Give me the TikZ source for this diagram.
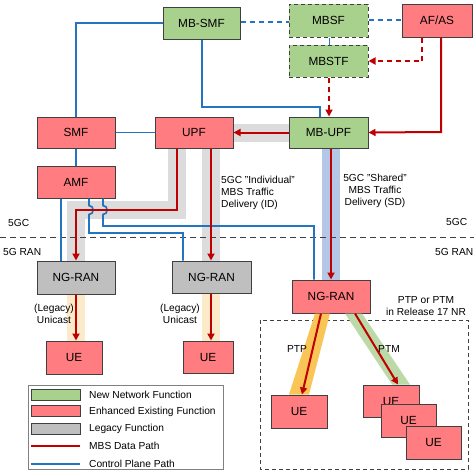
\documentclass[tikz,border=0pt]{standalone}
\usepackage{fontspec}
\setmainfont{Liberation Sans}
\usetikzlibrary{arrows.meta}
\definecolor{nfgreen}{HTML}{A9D18E}
\definecolor{nfred}{HTML}{FF7C80}
\definecolor{nfgray}{HTML}{BFBFBF}
\definecolor{edgec}{HTML}{404040}
\definecolor{dred}{HTML}{C00000}
\definecolor{cblue}{HTML}{2474C0}
\definecolor{bandgray}{HTML}{DCDCDC}
\definecolor{bandblue}{HTML}{B4C7E7}
\definecolor{bandbeige}{HTML}{FBEBCB}
\definecolor{bandorange}{HTML}{F9C557}
\definecolor{bandgreen}{HTML}{BCD9A8}
\begin{document}
\begin{tikzpicture}[x=1pt,y=-1pt,
  box/.style={draw=edgec,line width=1pt,inner sep=0pt,font=\fontsize{11.8}{14}\selectfont},
  gbox/.style={box,fill=nfgreen},
  rbox/.style={box,fill=nfred},
  ybox/.style={box,fill=nfgray},
  dbox/.style={gbox,dashed,dash pattern=on 4pt off 3pt},
  small/.style={font=\fontsize{10.2}{12}\selectfont,inner sep=0pt,align=center},
  cp/.style={draw=cblue,line width=1.7pt},
  cpd/.style={cp,dash pattern=on 5pt off 4pt},
  dp/.style={draw=dred,line width=2pt,-{Triangle[length=7pt,width=7pt]}},
  dpd/.style={dp,dash pattern=on 5pt off 4pt},
  band/.style={line width=18pt},
]
\useasboundingbox (0,0) rectangle (474,474);
% nodes
\node[gbox,minimum width=77pt,minimum height=32pt] (mbsmf) at (201.5,23) {MB-SMF};
\node[dbox,minimum width=79pt,minimum height=33pt] (mbsf) at (328.5,20.5) {MBSF};
\node[rbox,minimum width=70pt,minimum height=33pt] (afas) at (437,20.5) {AF/AS};
\node[dbox,minimum width=79pt,minimum height=32pt] (mbstf) at (328.5,61) {MBSTF};
\node[rbox,minimum width=78pt,minimum height=31pt] (smf) at (76,132.5) {SMF};
\node[rbox,minimum width=78pt,minimum height=31pt] (upf) at (194,132.5) {UPF};
\node[gbox,minimum width=79pt,minimum height=31pt] (mbupf) at (328.5,132.5) {MB-UPF};
\node[rbox,minimum width=78pt,minimum height=32pt] (amf) at (76,182) {AMF};
\node[ybox,minimum width=78pt,minimum height=33pt] (ran1) at (76,277.5) {NG-RAN};
\node[ybox,minimum width=79pt,minimum height=32pt] (ran2) at (211.5,277) {NG-RAN};
\node[rbox,minimum width=78pt,minimum height=33pt] (ran3) at (331,296.5) {NG-RAN};
\node[rbox,minimum width=56pt,minimum height=33pt] (ue1) at (74,357.5) {UE};
\node[rbox,minimum width=50pt,minimum height=32pt] (ue2) at (208,357) {UE};
% x reference coordinates
\coordinate (x61) at (61,0);
\coordinate (x76) at (76,0);
\coordinate (x89) at (89,0);
\coordinate (x103) at (103,0);
\coordinate (x177) at (177,0);
\coordinate (x183) at (183,0);
\coordinate (x202) at (202,0);
\coordinate (x211) at (211,0);
\coordinate (x314) at (314,0);
\coordinate (x320) at (320,0);
\coordinate (x329) at (329,0);
\coordinate (x331) at (331,0);
\coordinate (x422) at (422,0);
\coordinate (x441) at (441,0);
\coordinate (y22) at (0,22);
\coordinate (y20) at (0,20);
% bands
\draw[band,bandgray] (upf.south -| x177) -- (177,210) -- (76,210) -- (ran1.north -| x76);
\draw[band,bandgray] (upf.south -| x211) -- (ran2.north -| x211);
\draw[band,bandgray] (mbupf.west) -- (upf.east);
\draw[band,bandblue] (mbupf.south -| x331) -- (ran3.north -| x331);
\draw[band,bandbeige] (ran1.south -| x76) -- (ue1.north -| x76);
\draw[band,bandbeige] (ran2.south -| x211) -- (ue2.north -| x211);
% dashed separator
\draw[edgec,line width=1pt,dash pattern=on 6pt off 4pt] (0,237) -- (474,237);
\node[small,anchor=west] (l5gc) at (8,223) {5GC};
\node[small,anchor=west] (l5gran) at (3,252) {5G RAN};
\node[small,anchor=west] (r5gc) at (446,222) {5GC};
\node[small,anchor=west] (r5gran) at (435,252) {5G RAN};
% control plane
\draw[cp] (mbsmf.west) -- (mbsmf.west -| x76) -- (smf.north);
\draw[cp] (mbsmf.south -| x202) -- (202,107) -- (320,107) -- (mbupf.north -| x320);
\draw[cp] (smf.east) -- (upf.west);
\draw[cp] (smf.south) -- (amf.north);
\draw[cp] (amf.south -| x61) -- (ran1.north -| x61);
\draw[cp] (amf.south -| x89) -- (89,205.5) .. controls (94.5,205.5) and (94.5,214.5) .. (89,214.5) -- (89,233) -- (183,233) -- (ran2.north -| x183);
\draw[cp] (amf.south -| x103) -- (103,205.5) .. controls (108.5,205.5) and (108.5,214.5) .. (103,214.5) -- (103,226) -- (314,226) -- (ran3.north -| x314);
\draw[cpd] (mbsmf.east |- y22) -- (mbsf.west |- y22);
\draw[cpd] (mbsf.east |- y20) -- (afas.west |- y20);
\draw[draw=cblue,line width=1pt] (mbsf.south -| x329) -- (mbstf.north -| x329);
% data path
\draw[dp] (afas.south -| x441) -- (441,132) -- (mbupf.east);
\draw[dpd] (afas.south -| x422) -- (422,61) -- (mbstf.east);
\draw[dpd] (mbstf.south -| x329) -- (mbupf.north -| x329);
\draw[dp] (mbupf.west) -- (upf.east);
\draw[dp] (upf.south -| x177) -- (177,210) -- (76,210) -- (ran1.north -| x76);
\draw[dp] (upf.south -| x211) -- (ran2.north -| x211);
\draw[dp] (mbupf.south -| x331) -- (ran3.north -| x331);
\draw[dp] (ran1.south -| x76) -- (ue1.north -| x76);
\draw[dp] (ran2.south -| x211) -- (ue2.north -| x211);
% texts
\node[small,align=left,anchor=north west] (idtxt) at (221,176) {5GC "Individual"\\MBS Traffic\\Delivery (ID)};
\node[small,anchor=north] (sdtxt) at (375,174) {5GC "Shared"\\MBS Traffic\\Delivery (SD)};
\node[small] (leg1) at (54,313.5) {(Legacy)\\Unicast};
\node[small] (leg2) at (180,313.5) {(Legacy)\\Unicast};
% PTP/PTM area
\draw[edgec,line width=0.9pt,dash pattern=on 4pt off 3pt] (260,320) rectangle (468,469);
\node[small] (ptpptm) at (426,306.5) {PTP or PTM\\in Release 17 NR};
\node[rbox,minimum width=56pt,minimum height=33pt] (uep) at (299,411.5) {UE};
\node[rbox,minimum width=56pt,minimum height=32pt] (uea) at (391,401) {UE};
\node[rbox,minimum width=55pt,minimum height=33pt] (ueb) at (408.5,420.5) {UE};
\node[rbox,minimum width=55pt,minimum height=33pt] (uec) at (433.5,442.5) {UE};
\fill[bandorange] (315,313.5) -- (330,313.5) -- (309,394.5) -- (289,394.5) -- cycle;
\fill[bandgreen] (345,313.5) -- (362,313.5) -- (410,384.5) -- (392,384.5) -- cycle;
\coordinate (x321) at (321,0);
\coordinate (x302) at (302,0);
\coordinate (x355) at (355,0);
\coordinate (x398) at (398,0);
\draw[dp] (ran3.south -| x321) -- (uep.north -| x302);
\draw[dp] (ran3.south -| x355) -- (uea.north -| x398);
\node[small] (ptp) at (297,349) {PTP};
\node[small] (ptm) at (389,349) {PTM};
% legend
\draw[draw=gray,line width=0.8pt,fill=white] (28,385) rectangle (223,469);
\node[box,fill=nfgreen,minimum width=49pt,minimum height=11pt] (sw1) at (55.5,394.5) {};
\node[box,fill=nfred,minimum width=49pt,minimum height=11pt] (sw2) at (55.5,411) {};
\node[box,fill=nfgray,minimum width=49pt,minimum height=11pt] (sw3) at (55.5,428.5) {};
\coordinate (lr1) at (31,446);
\coordinate (lr2) at (80,446);
\coordinate (lb1) at (31,464);
\coordinate (lb2) at (80,464);
\draw[draw=dred,line width=2pt] (lr1) -- (lr2);
\draw[draw=cblue,line width=1.7pt] (lb1) -- (lb2);
\node[small,anchor=west] (t1) at (89,395) {New Network Function};
\node[small,anchor=west] (t2) at (89,411.5) {Enhanced Existing Function};
\node[small,anchor=west] (t3) at (89,428.5) {Legacy Function};
\node[small,anchor=west] (t4) at (89,446) {MBS Data Path};
\node[small,anchor=west] (t5) at (89,464) {Control Plane Path};
\end{tikzpicture}
\end{document}
